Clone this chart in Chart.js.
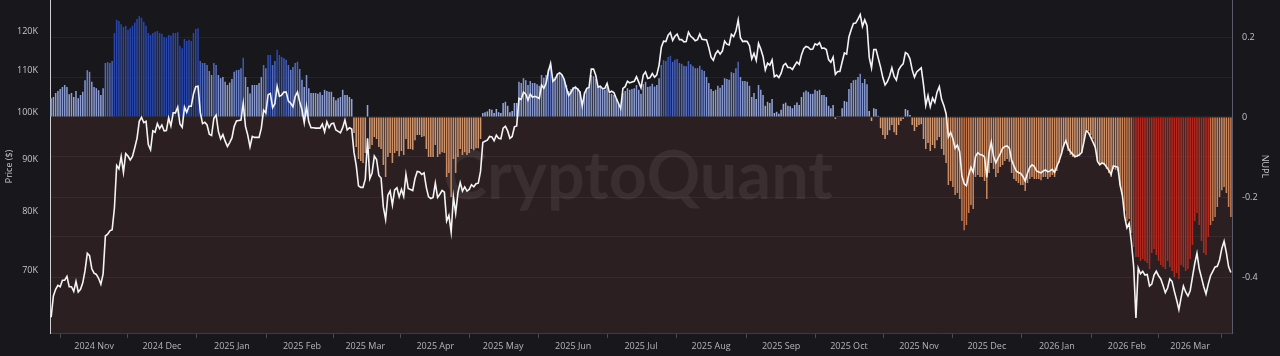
<!DOCTYPE html>
<html>
<head>
<meta charset="utf-8">
<script src="https://cdn.jsdelivr.net/npm/chart.js@4.4.1/dist/chart.umd.min.js"></script>
<style>
  html, body { margin: 0; padding: 0; background: #17171c; }
  #wrap { width: 1280px; height: 356px; }
</style>
</head>
<body>
<div id="wrap"><canvas id="nuplChart" width="1280" height="356"></canvas></div>
<script>
// daily series, first day below, one value per day
const startDate = '2024-10-13';

// BTC price (thousand $)
const price2024 = [
  62.9, 66.0, 67.0, 67.6, 67.4, 68.4, 68.4, 69.0, 67.4, 67.4, 66.7, 68.2, 66.6, 67.0, 68.0, 69.9, 72.7, 72.3, 70.2,
  69.5, 69.3, 68.7, 67.8, 69.4, 75.6, 75.9, 76.5, 76.7, 80.5, 88.7, 88.0, 90.5, 87.3, 91.1, 90.6, 89.8, 90.5, 92.3, 94.3,
  98.0, 98.9, 97.7, 98.0, 93.0, 91.9, 95.9, 95.6, 97.5, 96.4,
  97.2, 95.9, 96.0, 98.8, 97.0, 99.9, 99.9, 101.2, 97.4, 96.7, 101.2, 100.0, 101.4, 101.4, 104.3, 106.0, 106.1, 100.0,
  97.5, 97.8, 97.2, 95.2, 94.9, 98.7, 99.4, 95.8, 94.2, 95.1, 93.7, 92.6, 93.4
];
const price2025 = [
  94.4, 96.9, 98.1, 98.2, 98.3, 102.1, 96.9, 95.0, 92.5, 94.7, 94.5, 94.5, 94.5, 96.5, 100.5, 99.9, 104.1, 104.4, 101.1,
  102.0, 106.1, 103.7, 104.0, 104.7, 104.7, 102.6, 102.1, 101.3, 103.7, 104.7, 102.4,
  100.6, 97.7, 101.4, 97.9, 96.6, 96.6, 96.5, 96.5, 96.5, 97.4, 95.7, 97.9, 96.6, 97.5, 97.6, 96.1, 95.8, 95.5, 96.6,
  98.3, 96.1, 96.6, 96.3, 91.4, 88.7, 84.7, 84.4, 84.4,
  86.0, 94.3, 86.1, 87.2, 90.6, 89.9, 86.7, 86.2, 80.7, 78.5, 82.9, 83.7, 81.1, 83.9, 84.3, 82.6, 84.0, 82.7, 86.9,
  84.2, 84.0, 83.8, 86.1, 87.5, 87.4, 86.9, 87.2, 84.4, 82.6, 82.3, 82.5,
  85.2, 82.5, 83.1, 83.8, 83.5, 78.2, 79.2, 76.3, 82.6, 79.6, 83.4, 85.3, 83.7, 84.5, 83.7, 84.0, 84.9, 84.5, 85.1,
  85.2, 87.5, 93.4, 93.7, 93.9, 94.7, 94.6, 93.8, 95.0, 94.3, 94.2,
  96.5, 96.9, 95.9, 94.3, 94.7, 96.8, 97.0, 103.2, 103.0, 104.7, 104.2, 102.8, 104.2, 103.5, 103.7, 103.5, 103.2,
  106.4, 105.6, 106.8, 109.7, 111.7, 107.3, 107.8, 109.0, 109.4, 108.9, 107.8, 105.6, 103.9, 104.6,
  105.6, 105.8, 105.4, 104.7, 101.5, 104.4, 105.6, 105.8, 110.3, 110.3, 108.7, 105.9, 106.1, 105.5, 105.6, 106.8,
  104.6, 104.9, 104.6, 103.3, 102.1, 100.9, 105.6, 106.0, 107.3, 106.9, 107.1, 107.3, 108.4, 107.1,
  105.7, 108.8, 109.6, 108.0, 108.2, 109.2, 108.3, 108.9, 111.3, 115.9, 117.5, 117.4, 119.1, 119.8, 117.7, 118.8,
  119.4, 117.9, 117.9, 117.3, 117.4, 119.9, 118.8, 118.3, 117.6, 117.9, 119.4, 118.0, 117.9, 117.8, 115.8,
  113.3, 112.5, 114.2, 115.0, 114.1, 114.9, 117.5, 116.7, 116.5, 119.3, 118.7, 120.2, 123.3, 118.4, 117.4, 117.5,
  117.4, 116.3, 112.9, 114.3, 112.5, 116.9, 115.4, 113.5, 110.1, 111.8, 111.3, 112.6, 108.4, 108.8, 108.2,
  109.3, 111.2, 111.7, 110.7, 110.7, 110.2, 111.2, 112.1, 111.5, 113.9, 115.5, 116.1, 115.9, 115.3, 115.4, 116.8,
  116.5, 117.1, 115.6, 115.7, 115.3, 112.7, 112.0, 113.3, 109.0, 109.7, 109.7, 112.1, 114.4, 114.1,
  118.6, 120.6, 122.3, 122.4, 123.5, 124.8, 121.5, 123.3, 121.7, 113.2, 110.6, 115.3, 115.3, 113.0, 110.8, 108.2,
  106.4, 107.2, 108.6, 110.6, 108.5, 107.6, 110.1, 111.0, 111.6, 114.5, 114.1, 112.9, 110.1, 108.3, 109.6,
  110.1, 110.6, 106.5, 101.6, 103.9, 101.3, 103.3, 102.3, 104.7, 106.0, 103.0, 101.6, 99.7, 94.6, 95.6, 94.2, 92.2,
  92.9, 91.5, 86.6, 85.1, 84.7, 86.8, 88.3, 87.3, 90.5, 91.3, 90.9, 90.8, 90.4,
  86.3, 91.3, 93.5, 90.5, 89.2, 90.2, 91.1, 92.2, 92.6, 92.7, 92.2, 89.8, 88.6, 87.6, 87.3, 87.1, 86.5, 85.6, 87.2,
  88.3, 88.8, 88.5, 87.6, 87.4, 87.2, 87.6, 87.8, 87.4, 87.6, 87.9, 87.3
];
const price2026 = [
  88.5, 89.6, 91.0, 92.8, 93.8, 92.3, 91.5, 91.0, 90.5, 90.6, 90.9, 91.3, 93.6, 96.0, 95.5, 94.5, 93.5, 92.4, 89.5,
  88.8, 89.2, 89.0, 88.4, 87.7, 86.9, 88.6, 88.5, 88.3, 84.8, 82.9, 79.0,
  77.0, 77.8, 74.5, 70.5, 62.8, 70.3, 69.4, 69.8, 69.2, 69.3, 67.5, 67.8, 69.2, 69.8, 69.1, 68.6, 67.6, 66.5, 67.2,
  68.6, 68.2, 66.7, 65.4, 64.0, 65.8, 67.5, 66.6, 66.0,
  66.8, 68.9, 71.0, 72.7, 70.2, 68.8, 67.4, 66.3, 67.8, 69.1, 69.8, 70.5, 70.6, 71.6, 73.5, 74.7, 72.8, 70.5, 69.6
];

// NUPL
const nupl2024 = [
  0.047, 0.05, 0.06, 0.065, 0.07, 0.075, 0.08, 0.075, 0.057, 0.06, 0.05, 0.065, 0.047, 0.055, 0.063, 0.092, 0.117, 0.113, 0.088,
  0.075, 0.072, 0.067, 0.055, 0.072, 0.135, 0.137, 0.135, 0.14, 0.21, 0.243, 0.24, 0.232, 0.225, 0.228, 0.218, 0.222,
  0.228, 0.236, 0.245, 0.252, 0.248, 0.238, 0.228, 0.21, 0.205, 0.21, 0.213, 0.215, 0.21,
  0.208, 0.2, 0.198, 0.205, 0.203, 0.21, 0.21, 0.212, 0.178, 0.172, 0.195, 0.19, 0.193, 0.19, 0.21, 0.22, 0.222, 0.14,
  0.135, 0.135, 0.13, 0.115, 0.105, 0.135, 0.13, 0.105, 0.097, 0.1, 0.088, 0.08, 0.086
];
const nupl2025 = [
  0.095, 0.113, 0.117, 0.118, 0.122, 0.148, 0.1, 0.075, 0.059, 0.08, 0.08, 0.08, 0.085, 0.1, 0.13, 0.122, 0.155, 0.155,
  0.13, 0.14, 0.168, 0.155, 0.15, 0.147, 0.143, 0.13, 0.118, 0.125, 0.135, 0.138, 0.12,
  0.093, 0.075, 0.105, 0.072, 0.06, 0.06, 0.06, 0.058, 0.062, 0.055, 0.068, 0.065, 0.063, 0.063, 0.05, 0.042, 0.047,
  0.05, 0.068, 0.055, 0.055, 0.05, 0.045, -0.04, -0.075, -0.105, -0.11, -0.115,
  -0.09, 0.03, -0.08, -0.07, -0.05, -0.055, -0.075, -0.08, -0.12, -0.15, -0.1, -0.09, -0.115, -0.09, -0.085, -0.098,
  -0.085, -0.095, -0.055, -0.08, -0.08, -0.082, -0.058, -0.045, -0.045, -0.05, -0.048, -0.08, -0.1, -0.1, -0.1,
  -0.07, -0.1, -0.093, -0.088, -0.09, -0.15, -0.14, -0.2, -0.105, -0.14, -0.1, -0.08, -0.095, -0.088, -0.095, -0.09,
  -0.08, -0.083, -0.078, -0.078, -0.055, 0.01, 0.012, 0.014, 0.02, 0.018, 0.01, 0.02, 0.012, 0.01,
  0.035, 0.038, 0.028, 0.012, 0.015, 0.035, 0.035, 0.088, 0.085, 0.097, 0.092, 0.08, 0.09, 0.085, 0.085, 0.082, 0.078,
  0.105, 0.098, 0.105, 0.12, 0.13, 0.098, 0.1, 0.108, 0.11, 0.105, 0.095, 0.08, 0.065, 0.07,
  0.075, 0.078, 0.072, 0.065, 0.038, 0.063, 0.072, 0.075, 0.105, 0.102, 0.095, 0.075, 0.075, 0.07, 0.068, 0.075,
  0.058, 0.058, 0.055, 0.045, 0.035, 0.028, 0.06, 0.065, 0.072, 0.068, 0.07, 0.072, 0.08, 0.068,
  0.058, 0.082, 0.088, 0.075, 0.077, 0.083, 0.076, 0.08, 0.097, 0.13, 0.142, 0.14, 0.15, 0.153, 0.138, 0.143, 0.145,
  0.135, 0.133, 0.128, 0.127, 0.14, 0.132, 0.127, 0.122, 0.122, 0.128, 0.118, 0.115, 0.1, 0.085,
  0.07, 0.065, 0.068, 0.078, 0.073, 0.08, 0.097, 0.095, 0.093, 0.112, 0.11, 0.122, 0.138, 0.1, 0.09, 0.09, 0.088,
  0.078, 0.05, 0.06, 0.045, 0.08, 0.068, 0.055, 0.028, 0.038, 0.035, 0.045, 0.01, 0.013, 0.008,
  0.018, 0.033, 0.036, 0.028, 0.027, 0.022, 0.03, 0.036, 0.03, 0.05, 0.062, 0.066, 0.063, 0.058, 0.058, 0.068, 0.065,
  0.068, 0.055, 0.055, 0.05, 0.028, 0.022, 0.03, -0.005, 0.002, 0.002, 0.022, 0.04, 0.038,
  0.07, 0.085, 0.092, 0.093, 0.1, 0.108, 0.085, 0.095, 0.082, 0.015, -0.01, 0.022, 0.02, 0.003, -0.028, -0.045,
  -0.055, -0.045, -0.033, -0.02, -0.038, -0.045, -0.02, -0.01, -0.005, 0.02, 0.017, 0.005, -0.02, -0.035, -0.025,
  -0.02, -0.018, -0.055, -0.08, -0.065, -0.085, -0.07, -0.078, -0.058, -0.05, -0.08, -0.095, -0.115, -0.17, -0.16,
  -0.175, -0.195, -0.19, -0.205, -0.26, -0.283, -0.27, -0.24, -0.22, -0.23, -0.15, -0.145, -0.15, -0.15, -0.16,
  -0.205, -0.14, -0.115, -0.13, -0.15, -0.14, -0.125, -0.12, -0.11, -0.105, -0.112, -0.14, -0.155, -0.16, -0.165,
  -0.17, -0.17, -0.185, -0.165, -0.155, -0.15, -0.155, -0.155, -0.155, -0.158, -0.15, -0.15, -0.155, -0.15, -0.145, -0.15
];
const nupl2026 = [
  -0.135, -0.115, -0.095, -0.075, -0.065, -0.085, -0.095, -0.1, -0.102, -0.1, -0.098, -0.09, -0.06, -0.03, -0.035,
  -0.045, -0.055, -0.075, -0.11, -0.12, -0.115, -0.118, -0.13, -0.14, -0.15, -0.13, -0.132, -0.135, -0.17, -0.195, -0.235,
  -0.26, -0.255, -0.29, -0.325, -0.35, -0.35, -0.36, -0.355, -0.36, -0.365, -0.38, -0.34, -0.33, -0.345, -0.36, -0.37,
  -0.375, -0.38, -0.36, -0.375, -0.385, -0.4, -0.39, -0.405, -0.37, -0.375, -0.385, -0.38,
  -0.355, -0.32, -0.26, -0.24, -0.27, -0.31, -0.34, -0.345, -0.3, -0.27, -0.26, -0.25, -0.225, -0.2, -0.183, -0.175,
  -0.19, -0.225, -0.25
];

// days drawn in the deep red shade
const redSpan = ['2026-02-04', '2026-03-09'];

const priceTicks = [70, 80, 90, 100, 110, 120];
const nuplTicks = [-0.4, -0.2, 0, 0.2];
const nuplGrid = [-0.4, -0.3, -0.2, -0.1, 0, 0.1, 0.2];
const monthNames = ['Jan', 'Feb', 'Mar', 'Apr', 'May', 'Jun', 'Jul', 'Aug', 'Sep', 'Oct', 'Nov', 'Dec'];

const price = [...price2024, ...price2025, ...price2026];
const nupl = [...nupl2024, ...nupl2025, ...nupl2026];

// one date label per day
const labels = [];
const d0 = new Date(startDate + 'T00:00:00Z');
for (let i = 0; i < price.length; i++) {
  const d = new Date(d0.getTime() + i * 86400000);
  labels.push(d.toISOString().slice(0, 10));
}

// bar colours: pale -> deep blue above zero, orange below, red in the capitulation span
function hex(c) { return [1, 3, 5].map(i => parseInt(c.slice(i, i + 2), 16)); }
function mix(a, b, t) {
  t = Math.max(0, Math.min(1, t));
  const A = hex(a), B = hex(b);
  return 'rgb(' + A.map((v, i) => Math.round(v + (B[i] - v) * t)).join(',') + ')';
}
function barColor(v, i) {
  if (v >= 0) {
    if (v < 0.1) return mix('#a2aedb', '#8394cc', v / 0.1);
    return mix('#8394cc', '#2a46a8', (v - 0.1) / 0.06);
  }
  const day = labels[i];
  if (day >= redSpan[0] && day <= redSpan[1]) return '#b3281f';
  if (v > -0.22) return mix('#d4a07a', '#c7845a', -v / 0.22);
  return mix('#c7845a', '#b9683f', (-v - 0.22) / 0.08);
}

const backdrop = {
  id: 'backdrop',
  beforeDraw(chart) {
    const { ctx, chartArea: a, scales } = chart;
    const y0 = scales.yN.getPixelForValue(0);
    ctx.save();
    ctx.fillStyle = '#17171c';
    ctx.fillRect(0, 0, chart.width, chart.height);
    ctx.fillStyle = '#2c1f21';
    ctx.fillRect(a.left, y0, a.right - a.left, a.bottom - y0);
    // watermark
    let size = 80;
    ctx.font = 'bold ' + size + 'px Lato';
    size = size * 390 / ctx.measureText('CryptoQuant').width;
    ctx.font = 'bold ' + size + 'px Lato';
    ctx.fillStyle = '#3b2e30';
    ctx.textAlign = 'center';
    ctx.textBaseline = 'alphabetic';
    ctx.fillText('CryptoQuant', 638, 199);
    ctx.restore();
  }
};

const tickFont = { family: 'Open Sans', size: 9 };
const noPad = s => { s.paddingTop = 0; s.paddingBottom = 0; };

new Chart(document.getElementById('nuplChart'), {
  type: 'bar',
  data: {
    labels: labels,
    datasets: [
      {
        type: 'line',
        label: 'Price',
        data: price,
        yAxisID: 'yP',
        borderColor: '#f4f4f4',
        borderWidth: 1.6,
        pointRadius: 0,
        tension: 0,
        order: 1
      },
      {
        label: 'NUPL',
        data: nupl,
        yAxisID: 'yN',
        backgroundColor: nupl.map(barColor),
        barPercentage: 0.68,
        categoryPercentage: 1,
        borderWidth: 0,
        order: 2
      }
    ]
  },
  options: {
    responsive: false,
    animation: false,
    devicePixelRatio: 1,
    layout: { padding: 0 },
    plugins: { legend: { display: false }, tooltip: { enabled: false } },
    scales: {
      x: {
        type: 'category',
        afterBuildTicks: s => { s.ticks = s.ticks.filter(t => labels[t.value].endsWith('-01')); },
        afterFit: s => { s.height = 23; s.paddingLeft = 0; s.paddingRight = 0; },
        ticks: {
          autoSkip: false,
          maxRotation: 0,
          padding: 3,
          color: '#b4b4bc',
          font: tickFont,
          callback: function (v) {
            const l = labels[v];
            return l.slice(0, 4) + ' ' + monthNames[+l.slice(5, 7) - 1];
          }
        },
        grid: { display: true, drawOnChartArea: false, drawTicks: true, tickLength: 5, color: '#4a4a55' },
        border: { color: '#3a3a44' }
      },
      yP: {
        type: 'logarithmic',
        position: 'left',
        min: 60.7,
        max: 128.97,
        afterBuildTicks: s => { s.ticks = priceTicks.map(v => ({ value: v })); },
        afterFit: s => { s.width = 50; noPad(s); },
        ticks: {
          padding: 12,
          color: '#c4c4cc',
          font: tickFont,
          callback: v => v + 'K'
        },
        grid: { display: false, drawTicks: false },
        border: { color: '#cfcfd4' },
        title: { display: true, text: 'Price ($)', color: '#c4c4cc', font: tickFont, padding: { top: 4, bottom: 0 } }
      },
      yN: {
        type: 'linear',
        position: 'right',
        min: -0.54,
        max: 0.2925,
        afterBuildTicks: s => { s.ticks = nuplGrid.map(v => ({ value: v })); },
        afterFit: s => { s.width = 48; noPad(s); },
        ticks: {
          padding: 10,
          color: '#c4c4cc',
          font: tickFont,
          callback: v => nuplTicks.some(t => Math.abs(t - v) < 1e-6) ? String(Math.round(v * 10) / 10) : ''
        },
        grid: { display: true, drawTicks: false, color: 'rgba(255,255,255,0.05)' },
        border: { color: '#5a5a6a' },
        title: { display: true, text: 'NUPL', color: '#c4c4cc', font: tickFont, padding: { top: 10, bottom: 0 } }
      }
    }
  },
  plugins: [backdrop]
});
</script>
</body>
</html>
